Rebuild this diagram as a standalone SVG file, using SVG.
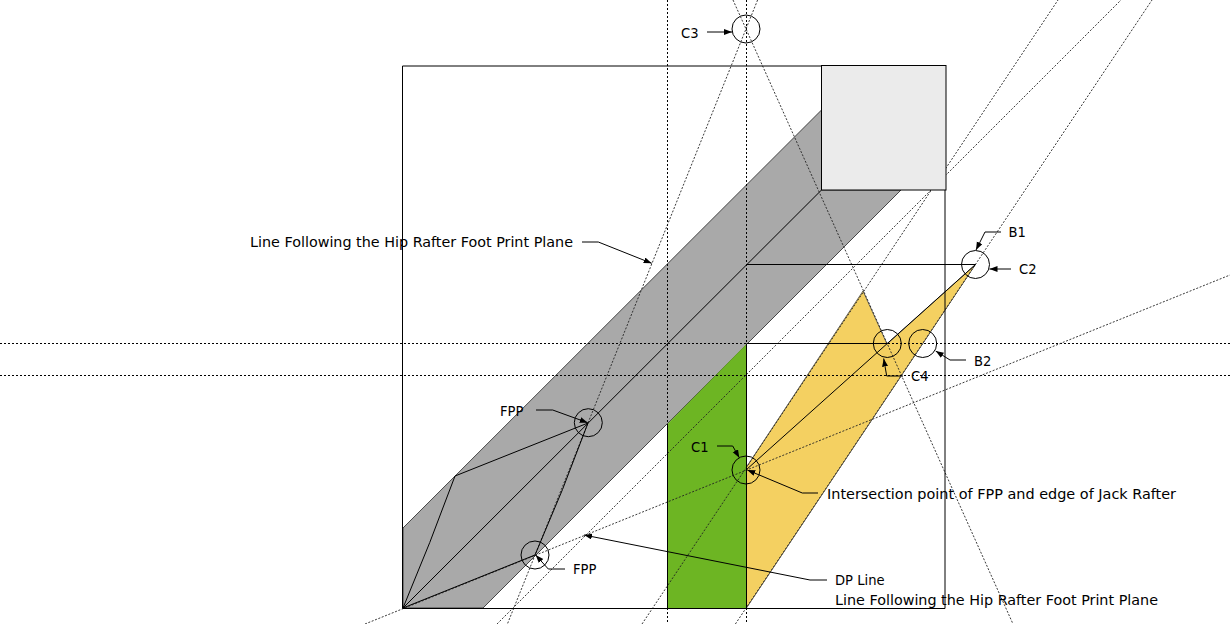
<svg xmlns="http://www.w3.org/2000/svg" width="1230" height="624" viewBox="0 0 1230 624">
<style>
text{font-family:"DejaVu Sans","Liberation Sans",sans-serif;font-size:14.6px;font-stretch:condensed;fill:#000}
.s{fill:none;stroke:#000;stroke-width:1}
.d{fill:none;stroke:#000;stroke-width:1;stroke-dasharray:2 2}
.g{fill:none;stroke:#222;stroke-width:.9;stroke-dasharray:2 1.6}
.c{fill:none;stroke:#000;stroke-width:1}
.l{fill:none;stroke:#000;stroke-width:1;marker-end:url(#a)}
</style>
<defs>
<marker id="a" markerUnits="userSpaceOnUse" markerWidth="9" markerHeight="7" refX="8" refY="3" orient="auto">
<path d="M0 0L8 3L0 6z" fill="#000"/>
</marker>
</defs>
<rect width="1230" height="624" fill="#fff"/>
<g id="surfaces">
<path id="hip-band" d="M403 528L821.5 110V190H901L483 608H403z" fill="#a9a9a9" stroke="#222" stroke-width=".8"/>
<path id="green-face" d="M667.5 424L746.5 344V608H667.5z" fill="#6db523"/>
<path id="yellow-face" d="M746.5 608L975.5 264.5L887 344L863 291L746.5 467z" fill="#f4d061" stroke="#333" stroke-width=".7"/>
</g>
<g id="connectors">
<path class="d" d="M0 343.5H1230M0 375.5H1230M667.5 0V624M746.5 0V344M746.5 608V624"/>
<path class="g" d="M757.6 0L507.4 624M733 0L1013 624M642 624L1058 0M735.4 624L1152 0M497 624L1121 0M365 624L1230 275"/>
<path class="s" d="M403 608L821.5 190M403 608Q430.5 543 455 476L588 423Q563.5 490 535 555L403 608M746 470L975.5 264.5M746.5 264.5H975.5M746.5 343.5H887"/>
<path class="s" d="M667.5 424V608M746.5 344V608"/>
</g>
<g id="frame">
<path class="s" d="M402.5 66H945V608.5H402.5z"/>
<rect id="light-square" x="821.5" y="65.5" width="124.5" height="124.5" fill="#ebebeb" stroke="#000"/>
</g>
<g id="point-C3"><circle class="c" cx="746" cy="29" r="14"/><path class="l" d="M707 32H732"/><text x="681" y="38">C3</text></g>
<g id="point-C2"><circle class="c" cx="975.5" cy="264.5" r="14"/><path class="l" d="M1011 269H989.5"/><text x="1019" y="274">C2</text></g>
<g id="point-B1"><path class="l" d="M1001 232H985L976 250"/><text x="1008.5" y="237">B1</text></g>
<g id="point-C4"><circle class="c" cx="887.3" cy="343.5" r="14"/><path class="l" d="M903 376H886.7L883.7 358.5"/><text x="911" y="381">C4</text></g>
<g id="point-B2"><circle class="c" cx="922.7" cy="343.5" r="14"/><path class="l" d="M966 360H950L935.7 351"/><text x="974" y="366">B2</text></g>
<g id="point-FPP-upper"><circle class="c" cx="588.3" cy="422.7" r="14"/><path class="l" d="M536 410H552.7L587.7 422.7"/><text x="500" y="416">FPP</text></g>
<g id="point-FPP-lower"><circle class="c" cx="535" cy="555" r="14"/><path class="l" d="M565 569H548.3L535.7 555"/><text x="573" y="574">FPP</text></g>
<g id="point-C1"><circle class="c" cx="746" cy="470" r="14"/><path class="l" d="M717 446H732.7L739.3 457.7"/><text x="691" y="452">C1</text></g>
<g id="label-intersection"><path class="l" d="M818 493H802.3L747.3 470"/><text x="827" y="499" textLength="349" lengthAdjust="spacingAndGlyphs">Intersection point of FPP and edge of Jack Rafter</text></g>
<g id="label-dp-line"><path class="l" d="M827 580H810L584 535"/><text x="835" y="585">DP Line</text><text x="835" y="605" textLength="323" lengthAdjust="spacingAndGlyphs">Line Following the Hip Rafter Foot Print Plane</text></g>
<g id="label-footprint"><path class="l" d="M582 242H598.3L651.7 263.3"/><text x="250" y="247" textLength="323" lengthAdjust="spacingAndGlyphs">Line Following the Hip Rafter Foot Print Plane</text></g>
</svg>
